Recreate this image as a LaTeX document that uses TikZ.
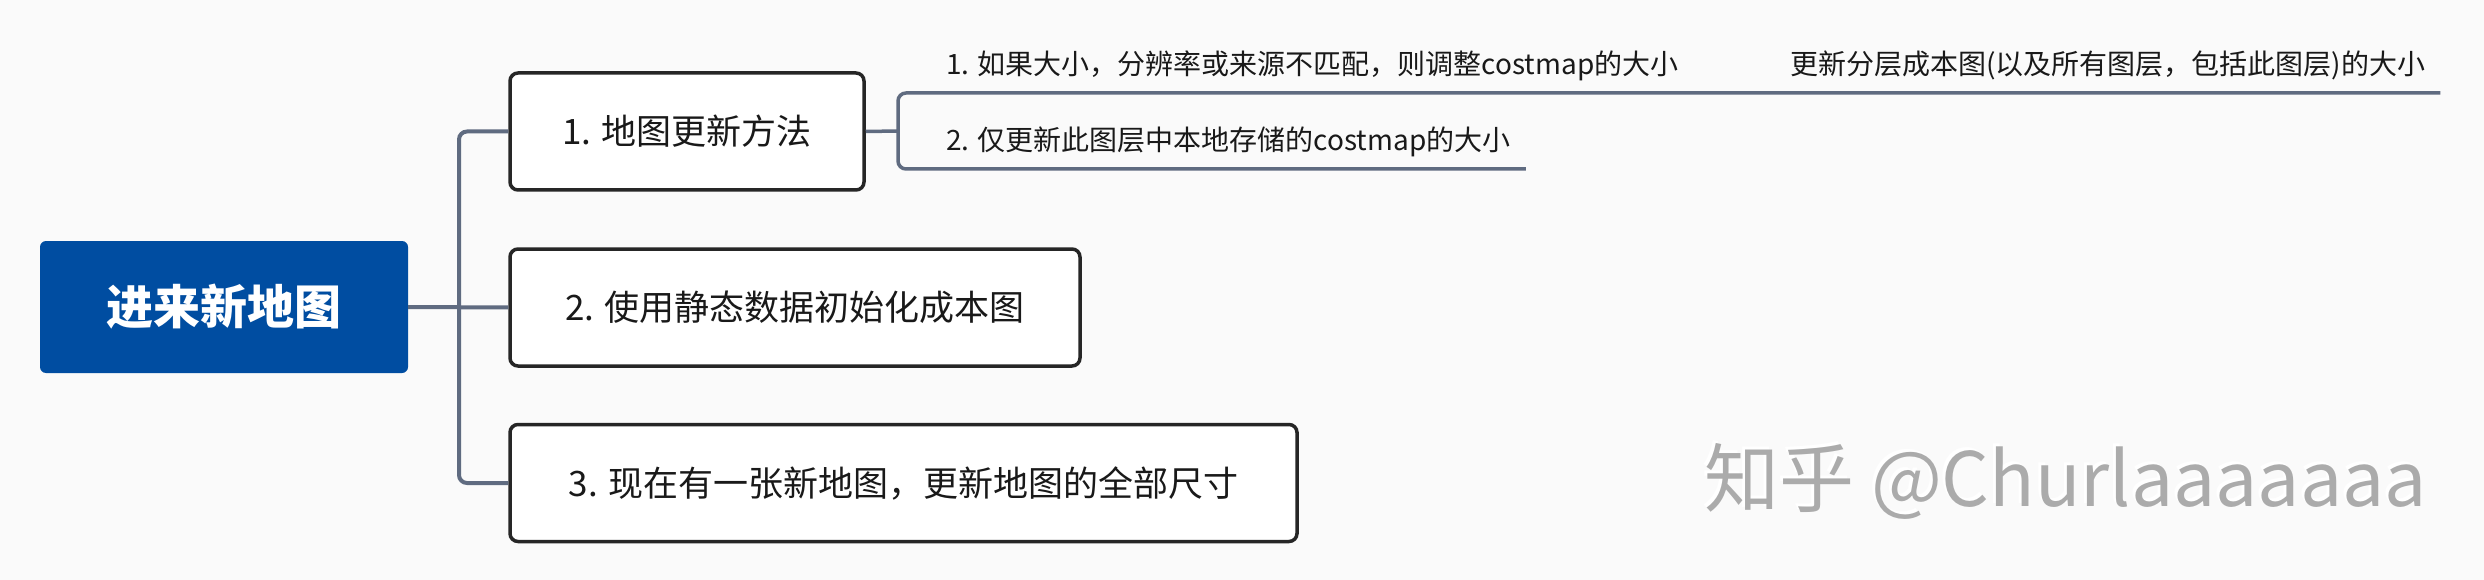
\documentclass[tikz,border=0pt]{standalone}
\usepackage{fontspec}
\newfontfamily\cjk{Noto Sans CJK SC}
\usetikzlibrary{calc}
\definecolor{bg}{RGB}{250,250,250}
\definecolor{rootblue}{RGB}{0,77,161}
\definecolor{conncol}{RGB}{95,107,128}
\definecolor{boxborder}{RGB}{38,38,38}
\definecolor{wmgray}{RGB}{171,171,171}
\definecolor{txt}{RGB}{25,25,25}
\begin{document}
\begin{tikzpicture}[x=1pt,y=-1pt,
  conn/.style={draw=conncol, line width=4pt, rounded corners=8pt},
  subconn/.style={draw=conncol, line width=3.5pt, rounded corners=8pt},
  rootbox/.style={fill=rootblue, rounded corners=6pt, text=white,
    font=\cjk\bfseries\fontsize{47}{56}\selectfont,
    minimum width=368pt, minimum height=132pt, inner sep=0pt},
  topicbox/.style={draw=boxborder, line width=3.5pt, rounded corners=8pt, fill=white,
    font=\cjk\fontsize{35}{42}\selectfont, minimum height=117pt, inner sep=0pt, text=txt},
  subtopic/.style={font=\cjk\fontsize{28}{34}\selectfont, inner xsep=15pt, inner ysep=18pt,
    text depth=0pt, anchor=south west, text=txt},
  wm/.style={font=\cjk\fontsize{75}{90}\selectfont, anchor=base west, inner sep=0pt}]
\path[fill=bg, use as bounding box] (0,0) rectangle (2484,580);

% root and main topics
\node[rootbox] (root) at (224,307) {进来新地图};
\node[topicbox, minimum width=354pt] (b1) at (687,131.5) {1. 地图更新方法};
\node[topicbox, minimum width=570pt] (b2) at (795,307.5) {2. 使用静态数据初始化成本图};
\node[topicbox, minimum width=787pt] (b3) at (903.5,483) {3. 现在有一张新地图，更新地图的全部尺寸};

% sub topics
\node[subtopic] (s1) at (931,93) {1. 如果大小，分辨率或来源不匹配，则调整costmap的大小};
\node[subtopic] (s1b) at (1775,93) {更新分层成本图(以及所有图层，包括此图层)的大小};
\node[subtopic] (s2) at (931,169) {2. 仅更新此图层中本地存储的costmap的大小};

% connectors
\coordinate (trunk) at (459,307);
\draw[conn] (root.east) -- (b2.west);
\draw[conn] (b1.west) -| (trunk) |- (b3.west);

\coordinate (fork) at (898,131);
\draw[subconn] (b1.east) -- (fork);
\draw[subconn] (fork) |- (s1b.south east);
\draw[subconn] (fork) |- (s2.south east);

% watermark
\node[wm, text=white] (wmshadow) at (1701,503) {知乎 @Churlaaaaaaa};
\node[wm, text=wmgray] (wmark) at (1704,506) {知乎 @Churlaaaaaaa};
\end{tikzpicture}
\end{document}
